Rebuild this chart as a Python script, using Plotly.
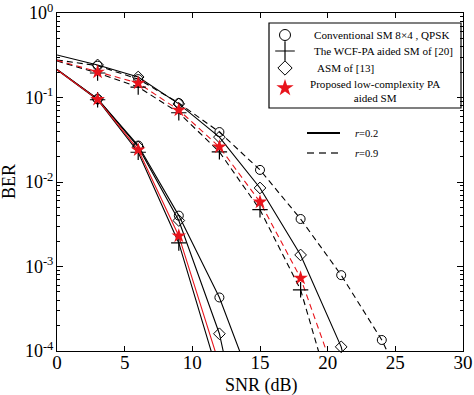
import numpy as np
import plotly.graph_objects as go

# ---------------- data ----------------
# r = 0.2 (solid lines)
snr_conv_r02 = [0, 3, 6, 9, 12, 15]
ber_conv_r02 = [0.215, 0.096, 0.027, 0.0040, 4.3e-4, 2.3e-5]
snr_wcf_r02 = [0, 3, 6, 9, 12]
ber_wcf_r02 = [0.212, 0.094, 0.0225, 0.0019, 4.7e-5]
snr_asm_r02 = [0, 3, 6, 9, 12, 15]
ber_asm_r02 = [0.215, 0.096, 0.026, 0.0035, 1.6e-4, 1.0e-6]
snr_prop_r02 = [0, 3, 6, 9, 12]
ber_prop_r02 = [0.213, 0.095, 0.024, 0.0023, 6.9e-5]

# r = 0.9 (dashed lines; ASM drawn solid in the original)
snr_conv_r09 = [0, 3, 6, 9, 12, 15, 18, 21, 24, 27]
ber_conv_r09 = [0.278, 0.238, 0.165, 0.086, 0.039, 0.0139, 0.00365, 7.9e-4, 1.35e-4, 1.3e-5]
snr_wcf_r09 = [0, 3, 6, 9, 12, 15, 18, 21]
ber_wcf_r09 = [0.27, 0.195, 0.133, 0.066, 0.0227, 0.0047, 5.3e-4, 1.2e-5]
snr_asm_r09 = [0, 3, 6, 9, 12, 15, 18, 21, 24]
ber_asm_r09 = [0.318, 0.243, 0.175, 0.084, 0.034, 0.0085, 0.00137, 1.12e-4, 1.0e-6]
snr_prop_r09 = [0, 3, 6, 9, 12, 15, 18, 21]
ber_prop_r09 = [0.275, 0.20, 0.148, 0.071, 0.026, 0.0058, 7.3e-4, 3.2e-5]

x_ticks = [0, 5, 10, 15, 20, 25, 30]
y_tickvals = [1e-4, 1e-3, 1e-2, 1e-1, 1]
y_ticktext = ["10<sup>-4</sup>", "10<sup>-3</sup>", "10<sup>-2</sup>", "10<sup>-1</sup>", "10<sup>0</sup>"]

legend_labels = ["Conventional SM 8×4 , QPSK", "The WCF-PA aided SM of [20]",
                 "ASM of [13]", "Proposed low-complexity PA<br>aided SM"]
corr_labels = ["<i>r</i>=0.2", "<i>r</i>=0.9"]

# ---------------- styling ----------------
FONT = "Liberation Serif, Times New Roman, serif"
BLACK = "#000000"
RED = "#e8141c"
DASH = "6px,4px"

W, H = 474, 395
L, R, T, B = 57, 11, 13, 44
PW, PH = W - L - R, H - T - B


def px2paper(px, py):
    return (px - L) / PW, (H - B - py) / PH


styles = {
    "conv": dict(symbol="circle-open", size=9, color=BLACK, line=dict(color=BLACK, width=1)),
    "wcf": dict(symbol="cross-thin-open", size=11, color=BLACK, line=dict(color=BLACK, width=1.2)),
    "asm": dict(symbol="diamond-open", size=9, color=BLACK, line=dict(color=BLACK, width=1)),
    "prop": dict(symbol="star", size=11, color=RED, line=dict(width=0)),
}

curves = [
    (snr_conv_r02, ber_conv_r02, "conv", BLACK, "solid"),
    (snr_asm_r02, ber_asm_r02, "asm", BLACK, "solid"),
    (snr_wcf_r02, ber_wcf_r02, "wcf", BLACK, "solid"),
    (snr_prop_r02, ber_prop_r02, "prop", RED, "solid"),
    (snr_conv_r09, ber_conv_r09, "conv", BLACK, DASH),
    (snr_asm_r09, ber_asm_r09, "asm", BLACK, "solid"),
    (snr_wcf_r09, ber_wcf_r09, "wcf", BLACK, DASH),
    (snr_prop_r09, ber_prop_r09, "prop", RED, DASH),
]

fig = go.Figure()

# lines
for xs, ys, key, col, dash in curves:
    fig.add_trace(go.Scatter(x=xs, y=ys, mode="lines",
                             line=dict(color=col, width=1.1, dash=dash),
                             showlegend=False, hoverinfo="skip"))
# markers (only on visible measurement points, SNR > 0)
for xs, ys, key, col, dash in curves:
    xa, ya = np.array(xs, float), np.array(ys, float)
    m = (xa > 0) & (ya >= 1e-4)
    fig.add_trace(go.Scatter(x=xa[m], y=ya[m], mode="markers", marker=dict(styles[key]),
                             cliponaxis=False, showlegend=False, hoverinfo="skip"))

# ---------------- custom legend on a pixel-mapped overlay axis ----------------
leg_y = [35, 51, 68, 88]
leg_keys = ["conv", "wcf", "asm", "prop"]
leg_sizes = {"conv": 11, "wcf": 14, "asm": 11, "prop": 13}
for yy, key in zip(leg_y, leg_keys):
    st = dict(styles[key])
    st["size"] = leg_sizes[key]
    fig.add_trace(go.Scatter(x=[285], y=[yy], mode="markers", marker=st,
                             xaxis="x2", yaxis="y2", cliponaxis=False,
                             showlegend=False, hoverinfo="skip"))
fig.add_trace(go.Scatter(x=[307, 340], y=[133, 133], mode="lines",
                         line=dict(color=BLACK, width=2), xaxis="x2", yaxis="y2",
                         showlegend=False, hoverinfo="skip"))
fig.add_trace(go.Scatter(x=[307, 340], y=[153, 153], mode="lines",
                         line=dict(color="#333333", width=1.3, dash="7px,5px"),
                         xaxis="x2", yaxis="y2", showlegend=False, hoverinfo="skip"))

fig.add_shape(type="rect", xref="x2", yref="y2", x0=269, x1=461, y0=23, y1=108,
              line=dict(color=BLACK, width=1.2), fillcolor="rgba(0,0,0,0)")

annots = []
txt_font = dict(family=FONT, size=11.1, color=BLACK)
for yy, lab, xx in zip([35, 51, 68], legend_labels[:3], [312, 312, 315]):
    annots.append(dict(x=xx, y=yy, xref="x2", yref="y2", text=lab, showarrow=False,
                       xanchor="left", yanchor="middle", font=txt_font))
annots.append(dict(x=375, y=91, xref="x2", yref="y2", text=legend_labels[3],
                   showarrow=False, xanchor="center", yanchor="middle", align="center",
                   font=txt_font))
for yy, lab in zip([133, 153], corr_labels):
    annots.append(dict(x=353, y=yy, xref="x2", yref="y2", text=lab, showarrow=False,
                       xanchor="left", yanchor="middle", font=dict(family=FONT, size=10.5, color=BLACK)))
# axis titles (paper coords, may lie outside the plot area)
ax, ay = px2paper(261, 385)
annots.append(dict(x=ax, y=ay, xref="paper", yref="paper", text="SNR (dB)", showarrow=False,
                   xanchor="center", yanchor="middle", font=dict(family=FONT, size=18, color=BLACK)))
bx, by = px2paper(9, 182)
annots.append(dict(x=bx, y=by, xref="paper", yref="paper", text="BER", showarrow=False, textangle=-90,
                   xanchor="center", yanchor="middle", font=dict(family=FONT, size=18, color=BLACK)))

minor_vals = [m * 10.0 ** e for e in range(-4, 0) for m in range(2, 10)]

fig.update_layout(
    width=W, height=H,
    margin=dict(l=L, r=R, t=T, b=B, pad=0),
    paper_bgcolor="white", plot_bgcolor="white",
    font=dict(family=FONT, color=BLACK),
    showlegend=False,
    annotations=annots,
    xaxis=dict(range=[0, 30], tickvals=x_ticks, ticks="inside", ticklen=5, tickwidth=1,
               tickcolor=BLACK, showline=True, linecolor=BLACK, linewidth=1, mirror="ticks",
               showgrid=False, zeroline=False, automargin=False, ticklabeloverflow="allow",
               ticklabelstandoff=-6,
               tickfont=dict(family=FONT, size=19, color=BLACK)),
    yaxis=dict(type="log", range=[-4, 0], tickvals=y_tickvals, ticktext=y_ticktext,
               ticks="inside", ticklen=6, tickwidth=1, tickcolor=BLACK,
               showline=True, linecolor=BLACK, linewidth=1, mirror="ticks",
               showgrid=False, zeroline=False, automargin=False, ticklabeloverflow="allow",
               ticklabelstandoff=-1,
               tickfont=dict(family=FONT, size=18, color=BLACK),
               minor=dict(tickmode="array", tickvals=minor_vals, ticks="inside", ticklen=3,
                          tickcolor=BLACK, tickwidth=1, showgrid=False)),
    xaxis2=dict(range=[L, W - R], overlaying="x", anchor="y2", visible=False,
                showgrid=False, zeroline=False, automargin=False),
    yaxis2=dict(range=[H - B, T], overlaying="y", anchor="x2", visible=False,
                showgrid=False, zeroline=False, automargin=False),
)

fig.write_html("out.html", config={"displayModeBar": False},
               post_script="document.body.style.margin='0px';")
